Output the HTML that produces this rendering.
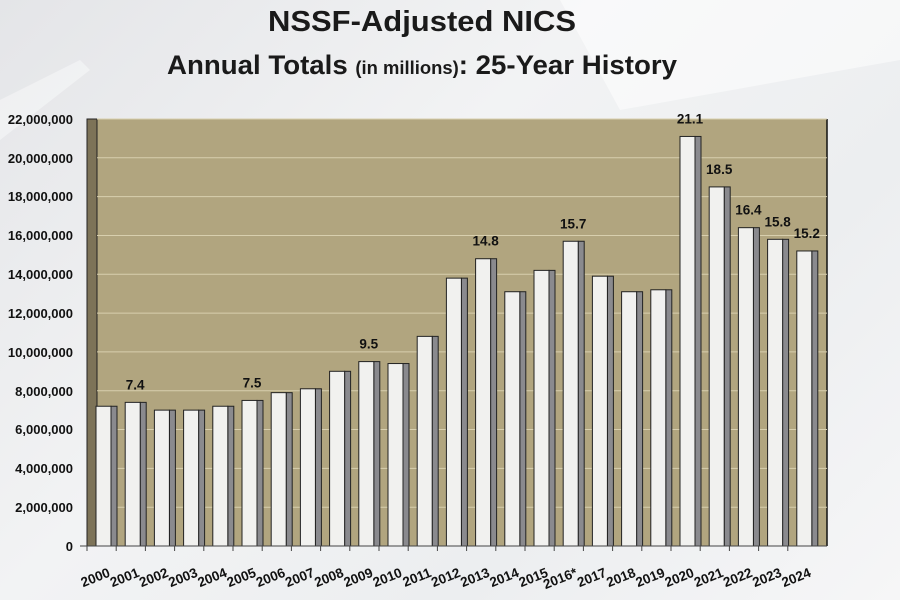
<!DOCTYPE html>
<html><head><meta charset="utf-8"><style>
body{margin:0;width:900px;height:600px;overflow:hidden;background:linear-gradient(135deg,#e4e5e8 0%,#f2f3f4 40%,#eceef0 70%,#f6f6f7 100%);font-family:"Liberation Sans",sans-serif;}
</style></head><body>
<svg width="900" height="600" xmlns="http://www.w3.org/2000/svg" style="position:absolute;left:0;top:0">
<polygon points="560,0 900,0 900,60 620,110" fill="#ffffff" opacity="0.5"/>
<polygon points="0,100 80,60 90,70 0,140" fill="#ffffff" opacity="0.4"/>
<text x="422" y="31" text-anchor="middle" font-size="29" font-weight="bold" fill="#1a1a1a" textLength="308" lengthAdjust="spacingAndGlyphs">NSSF-Adjusted NICS</text>
<text x="422" y="74" text-anchor="middle" font-size="27" font-weight="bold" fill="#1a1a1a" textLength="510" lengthAdjust="spacingAndGlyphs">Annual Totals <tspan font-size="18">(in millions)</tspan>: 25-Year History</text>
<rect x="97" y="119" width="730" height="427" fill="#b1a57f"/>
<polygon points="87,119 97,119 97,546 87,546" fill="#7d7358" stroke="#222" stroke-width="1"/>
<line x1="827" y1="119" x2="827" y2="546" stroke="#111" stroke-width="1.5"/>
<g stroke="#d8cfae" stroke-width="1">
<line x1="97" y1="507.2" x2="827" y2="507.2"/><line x1="97" y1="468.4" x2="827" y2="468.4"/><line x1="97" y1="429.5" x2="827" y2="429.5"/><line x1="97" y1="390.7" x2="827" y2="390.7"/><line x1="97" y1="351.9" x2="827" y2="351.9"/><line x1="97" y1="313.1" x2="827" y2="313.1"/><line x1="97" y1="274.3" x2="827" y2="274.3"/><line x1="97" y1="235.5" x2="827" y2="235.5"/><line x1="97" y1="196.6" x2="827" y2="196.6"/><line x1="97" y1="157.8" x2="827" y2="157.8"/><line x1="97" y1="119" x2="827" y2="119"/>
</g>
<g font-size="13" font-weight="bold" fill="#111" text-anchor="end">
<text x="73" y="551">0</text><text x="73" y="512">2,000,000</text><text x="73" y="473">4,000,000</text><text x="73" y="434">6,000,000</text><text x="73" y="396">8,000,000</text><text x="73" y="357">10,000,000</text><text x="73" y="318">12,000,000</text><text x="73" y="279">14,000,000</text><text x="73" y="240">16,000,000</text><text x="73" y="201">18,000,000</text><text x="73" y="163">20,000,000</text><text x="73" y="124">22,000,000</text>
</g>
<g id="bars"></g>
<line x1="80" y1="546" x2="827" y2="546" stroke="#444" stroke-width="1"/>
<g id="ticks" stroke="#444"></g>
<g id="labels" font-size="13.5" font-weight="bold" fill="#111"></g>
</svg>
<script>
var v=[7.2,7.4,7.0,7.0,7.2,7.5,7.9,8.1,9.0,9.5,9.4,10.8,13.8,14.8,13.1,14.2,15.7,13.9,13.1,13.2,21.1,18.5,16.4,15.8,15.2];
var lab={1:"7.4",5:"7.5",9:"9.5",13:"14.8",16:"15.7",20:"21.1",21:"18.5",22:"16.4",23:"15.8",24:"15.2"};
var s=29.2;
var b=document.getElementById("bars"),t=document.getElementById("ticks"),l=document.getElementById("labels"),bh="",th="",lh="";
for(var i=0;i<25;i++){var x=87+i*s,y=546-v[i]*19.41;
bh+='<rect x="'+(x+24)+'" y="'+y+'" width="6" height="'+(546-y)+'" fill="#8a8a8e" stroke="#222" stroke-width="1"/>';
bh+='<rect x="'+(x+9)+'" y="'+y+'" width="15" height="'+(546-y)+'" fill="#f1f1ef" stroke="#222" stroke-width="1"/>';
th+='<line x1="'+x+'" y1="546" x2="'+x+'" y2="551"/>';
var yr=(2000+i)+(i==16?"*":"");
lh+='<text transform="translate('+(x+24)+',576) rotate(-22)" text-anchor="end">'+yr+'</text>';
if(lab[i])lh+='<text x="'+(x+19)+'" y="'+(y-13)+'" text-anchor="middle" font-size="13.5">'+lab[i]+'</text>';}
b.innerHTML=bh;t.innerHTML=th;l.innerHTML=lh;
</script>
</body></html>
